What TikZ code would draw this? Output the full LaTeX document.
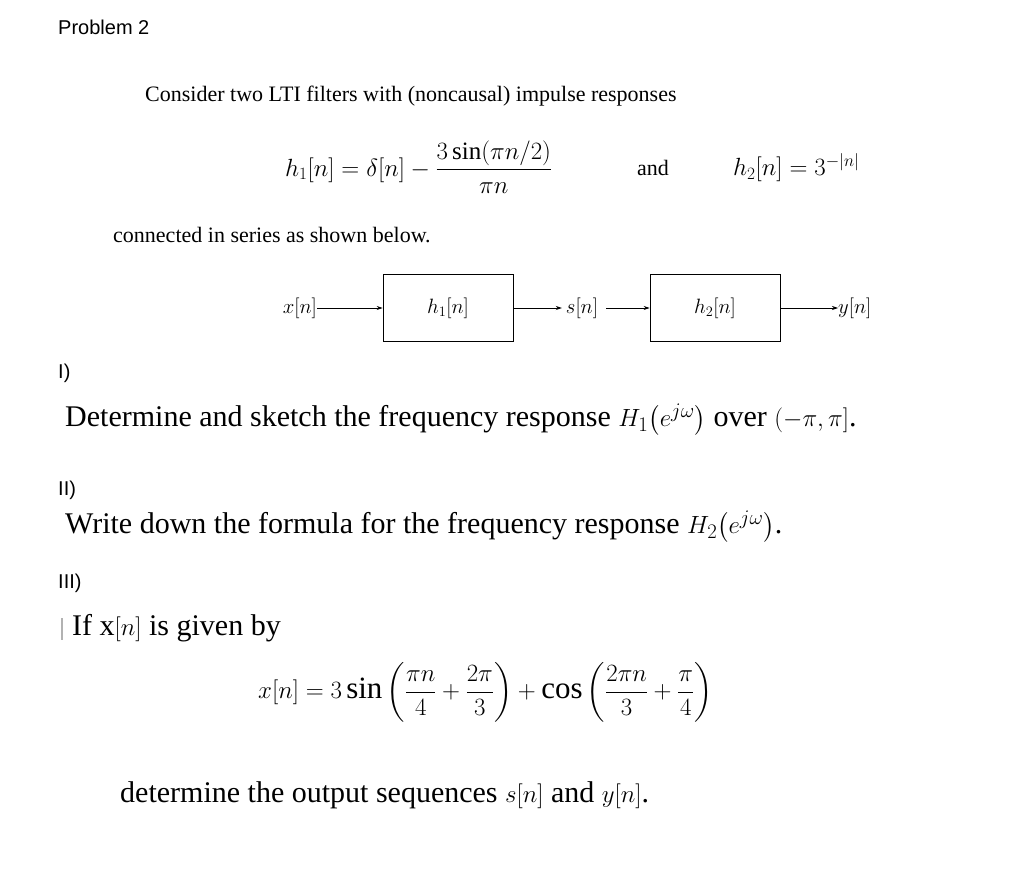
\documentclass[tikz,border=0pt]{standalone}
\usepackage{amsmath}
\usepackage{fontspec}
\setmainfont{Liberation Serif}
\newfontfamily\arial{Liberation Sans}
\usetikzlibrary{arrows.meta}
\begin{document}
\begin{tikzpicture}[x=1pt,y=-1pt,
  lab/.style={anchor=west,inner sep=0pt,font=\arial\fontsize{20}{24}\selectfont},
  txt/.style={anchor=west,inner sep=0pt,font=\fontsize{22}{26}\selectfont},
  big/.style={anchor=west,inner sep=0pt,font=\fontsize{30}{34}\selectfont},
  blk/.style={draw,line width=0.8pt,minimum width=130pt,minimum height=67pt,inner sep=0pt,font=\fontsize{22}{26}\selectfont},
  sig/.style={inner sep=0pt,font=\fontsize{22}{26}\selectfont},
  arr/.style={-{Stealth[length=6pt,width=4pt]},line width=0.7pt}]
\useasboundingbox (0,0) rectangle (1024,880);
\node[lab] (p2) at (58,27) {Problem 2};
\node[txt] (t1) at (145,96) {Consider two LTI filters with (noncausal) impulse responses};
\node[anchor=west,inner sep=0pt,font=\fontsize{25}{30}\selectfont] (h1) at (285,167) {$h_1[n]=\delta[n]-\dfrac{3\sin(\pi n/2)}{\pi n}$};
\node[anchor=west,inner sep=0pt,font=\fontsize{22}{26}\selectfont] (and) at (637,168) {and};
\node[anchor=west,inner sep=0pt,font=\fontsize{24}{28}\selectfont] (h2) at (733,168) {$h_2[n]=3^{-|n|}$};
\node[txt] (t2) at (113,235) {connected in series as shown below.};
\node[blk] (b1) at (448,308) {$h_1[n]$};
\node[blk] (b2) at (715,308) {$h_2[n]$};
\node[sig,anchor=east] (x) at (317,308) {$x[n]$};
\node[sig] (s) at (582,308) {$s[n]$};
\node[sig,anchor=west] (y) at (838,308) {$y[n]$};
\draw[arr] (x.east) -- (b1.west);
\draw[arr] (b1.east) -- ([xshift=-4pt]s.west);
\draw[arr] ([xshift=8pt]s.east) -- (b2.west);
\draw[arr] (b2.east) -- (y.west);
\node[lab] (i) at (58,373) {I)};
\node[big] (q1) at (65,420) {Determine and sketch the frequency response $H_1\!\left(e^{j\omega}\right)$ over $(-\pi,\pi]$.};
\node[lab] (ii) at (58,490) {II)};
\node[big] (q2) at (65,527) {Write down the formula for the frequency response $H_2\!\left(e^{j\omega}\right)$.};
\node[lab] (iii) at (58,583) {III)};
\fill[gray!60] (61,618) rectangle (63,640);
\node[big] (q3) at (72,628) {If x$[n]$ is given by};
\node[anchor=west,inner sep=0pt,font=\fontsize{31}{36}\selectfont] (xf) at (258,692) {$x[n]=3\sin\left(\dfrac{\pi n}{4}+\dfrac{2\pi}{3}\right)+\cos\left(\dfrac{2\pi n}{3}+\dfrac{\pi}{4}\right)$};
\node[big] (q4) at (120,795) {determine the output sequences $s[n]$ and $y[n]$.};
\end{tikzpicture}
\end{document}
